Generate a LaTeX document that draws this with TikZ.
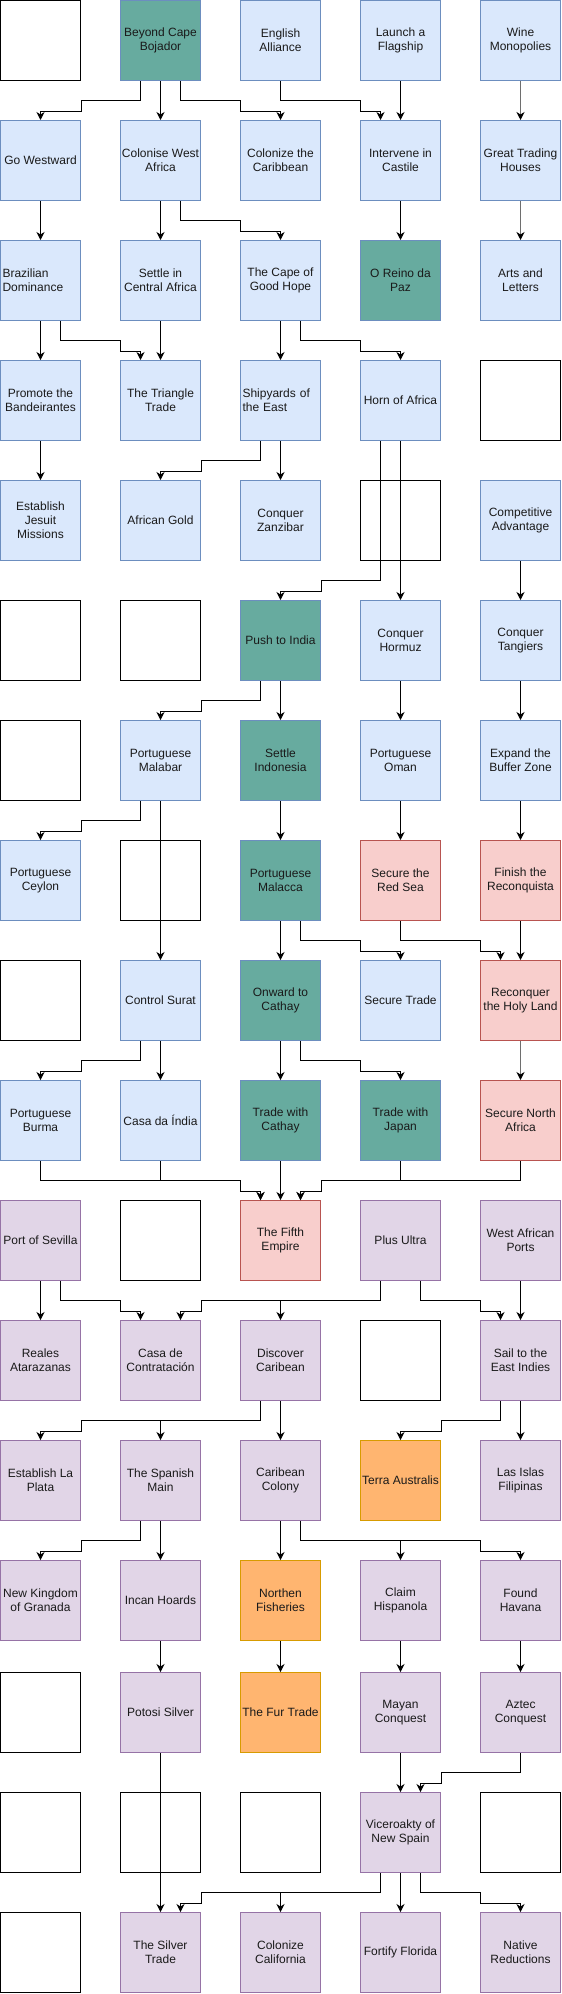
\documentclass[tikz,border=0pt]{standalone}
\usepackage{fontspec}
\setmainfont{Liberation Sans}
\usetikzlibrary{arrows.meta,calc}
\definecolor{blueF}{HTML}{DAE8FC}
\definecolor{blueD}{HTML}{6C8EBF}
\definecolor{greenF}{HTML}{67AB9F}
\definecolor{pinkF}{HTML}{F8CECC}
\definecolor{pinkD}{HTML}{B85450}
\definecolor{purpF}{HTML}{E1D5E7}
\definecolor{purpD}{HTML}{9673A6}
\definecolor{orF}{HTML}{FFB570}
\definecolor{orD}{HTML}{D79B00}
\definecolor{greyL}{HTML}{6E6E6E}
\definecolor{txt}{HTML}{1A1A1A}
\newcommand\elb[3]{\draw[conn] (#1) |- ($(#2)+(0,20)$) -- ($(#2)+(0,9)$) -| (#3);}
\newcommand\brn[2]{\draw[conn] (#1) |- ($(#2)+(0,20)$) -- (#2);}
\begin{document}
\begin{tikzpicture}[x=1pt,y=1pt,
  box/.style={rectangle, draw, line width=1pt, minimum width=80pt, minimum height=80pt,
    inner sep=1pt, align=center, text=txt, font=\fontsize{12}{14.2}\selectfont},
  bluebox/.style={box, fill=blueF, draw=blueD},
  greenbox/.style={box, fill=greenF, draw=blueD},
  pinkbox/.style={box, fill=pinkF, draw=pinkD},
  purpbox/.style={box, fill=purpF, draw=purpD},
  orbox/.style={box, fill=orF, draw=orD},
  emptybox/.style={box, fill=white, draw=black},
  lefttext/.style={align=left, text width=76pt},
  conn/.style={draw=black, line width=1pt, -{Stealth[length=8pt,width=8pt,inset=2.5pt]}},
  greyconn/.style={draw=greyL, line width=1.3pt, -{Stealth[length=8pt,width=8pt,inset=2.5pt,color=black]}}
]
\useasboundingbox (-0.5,0.5) rectangle (561.5,-1993.5);
% row 0
\node[emptybox] (r0c0) at (40,-40) {};
\node[greenbox] (r0c1) at (160,-40) {Beyond Cape\\Bojador};
\node[bluebox] (r0c2) at (280,-40) {English\\Alliance};
\node[bluebox] (r0c3) at (400,-40) {Launch a\\Flagship};
\node[bluebox] (r0c4) at (520,-40) {Wine\\Monopolies};
% row 1
\node[bluebox] (r1c0) at (40,-160) {Go Westward};
\node[bluebox] (r1c1) at (160,-160) {Colonise West\\Africa};
\node[bluebox] (r1c2) at (280,-160) {Colonize the\\Caribbean};
\node[bluebox] (r1c3) at (400,-160) {Intervene in\\Castile};
\node[bluebox] (r1c4) at (520,-160) {Great Trading\\Houses};
% row 2
\node[bluebox,lefttext] (r2c0) at (40,-280) {Brazilian\\Dominance};
\node[bluebox] (r2c1) at (160,-280) {Settle in\\Central Africa};
\node[bluebox] (r2c2) at (280,-280) {The Cape of\\Good Hope};
\node[greenbox] (r2c3) at (400,-280) {O Reino da\\Paz};
\node[bluebox] (r2c4) at (520,-280) {Arts and\\Letters};
% row 3
\node[bluebox] (r3c0) at (40,-400) {Promote the\\Bandeirantes};
\node[bluebox] (r3c1) at (160,-400) {The Triangle\\Trade};
\node[bluebox,lefttext] (r3c2) at (280,-400) {Shipyards of\\the East};
\node[bluebox] (r3c3) at (400,-400) {Horn of Africa};
\node[emptybox] (r3c4) at (520,-400) {};
% row 4
\node[bluebox] (r4c0) at (40,-520) {Establish\\Jesuit\\Missions};
\node[bluebox] (r4c1) at (160,-520) {African Gold};
\node[bluebox] (r4c2) at (280,-520) {Conquer\\Zanzibar};
\node[emptybox] (r4c3) at (400,-520) {};
\node[bluebox] (r4c4) at (520,-520) {Competitive\\Advantage};
% row 5
\node[emptybox] (r5c0) at (40,-640) {};
\node[emptybox] (r5c1) at (160,-640) {};
\node[greenbox] (r5c2) at (280,-640) {Push to India};
\node[bluebox] (r5c3) at (400,-640) {Conquer\\Hormuz};
\node[bluebox] (r5c4) at (520,-640) {Conquer\\Tangiers};
% row 6
\node[emptybox] (r6c0) at (40,-760) {};
\node[bluebox] (r6c1) at (160,-760) {Portuguese\\Malabar};
\node[greenbox] (r6c2) at (280,-760) {Settle\\Indonesia};
\node[bluebox] (r6c3) at (400,-760) {Portuguese\\Oman};
\node[bluebox] (r6c4) at (520,-760) {Expand the\\Buffer Zone};
% row 7
\node[bluebox] (r7c0) at (40,-880) {Portuguese\\Ceylon};
\node[emptybox] (r7c1) at (160,-880) {};
\node[greenbox] (r7c2) at (280,-880) {Portuguese\\Malacca};
\node[pinkbox] (r7c3) at (400,-880) {Secure the\\Red Sea};
\node[pinkbox] (r7c4) at (520,-880) {Finish the\\Reconquista};
% row 8
\node[emptybox] (r8c0) at (40,-1000) {};
\node[bluebox] (r8c1) at (160,-1000) {Control Surat};
\node[greenbox] (r8c2) at (280,-1000) {Onward to\\Cathay};
\node[bluebox] (r8c3) at (400,-1000) {Secure Trade};
\node[pinkbox] (r8c4) at (520,-1000) {Reconquer\\the Holy Land};
% row 9
\node[bluebox] (r9c0) at (40,-1120) {Portuguese\\Burma};
\node[bluebox] (r9c1) at (160,-1120) {Casa da Índia};
\node[greenbox] (r9c2) at (280,-1120) {Trade with\\Cathay};
\node[greenbox] (r9c3) at (400,-1120) {Trade with\\Japan};
\node[pinkbox] (r9c4) at (520,-1120) {Secure North\\Africa};
% row 10
\node[purpbox] (r10c0) at (40,-1240) {Port of Sevilla};
\node[emptybox] (r10c1) at (160,-1240) {};
\node[pinkbox] (r10c2) at (280,-1240) {The Fifth\\Empire};
\node[purpbox] (r10c3) at (400,-1240) {Plus Ultra};
\node[purpbox] (r10c4) at (520,-1240) {West African\\Ports};
% row 11
\node[purpbox] (r11c0) at (40,-1360) {Reales\\Atarazanas};
\node[purpbox] (r11c1) at (160,-1360) {Casa de\\Contratación};
\node[purpbox] (r11c2) at (280,-1360) {Discover\\Caribean};
\node[emptybox] (r11c3) at (400,-1360) {};
\node[purpbox] (r11c4) at (520,-1360) {Sail to the\\East Indies};
% row 12
\node[purpbox] (r12c0) at (40,-1480) {Establish La\\Plata};
\node[purpbox] (r12c1) at (160,-1480) {The Spanish\\Main};
\node[purpbox] (r12c2) at (280,-1480) {Caribean\\Colony};
\node[orbox] (r12c3) at (400,-1480) {Terra Australis};
\node[purpbox] (r12c4) at (520,-1480) {Las Islas\\Filipinas};
% row 13
\node[purpbox] (r13c0) at (40,-1600) {New Kingdom\\of Granada};
\node[purpbox] (r13c1) at (160,-1600) {Incan Hoards};
\node[orbox] (r13c2) at (280,-1600) {Northen\\Fisheries};
\node[purpbox] (r13c3) at (400,-1600) {Claim\\Hispanola};
\node[purpbox] (r13c4) at (520,-1600) {Found\\Havana};
% row 14
\node[emptybox] (r14c0) at (40,-1712) {};
\node[purpbox] (r14c1) at (160,-1712) {Potosi Silver};
\node[orbox] (r14c2) at (280,-1712) {The Fur Trade};
\node[purpbox] (r14c3) at (400,-1712) {Mayan\\Conquest};
\node[purpbox] (r14c4) at (520,-1712) {Aztec\\Conquest};
% row 15
\node[emptybox] (r15c0) at (40,-1832) {};
\node[emptybox] (r15c1) at (160,-1832) {};
\node[emptybox] (r15c2) at (280,-1832) {};
\node[purpbox] (r15c3) at (400,-1832) {Viceroakty of\\New Spain};
\node[emptybox] (r15c4) at (520,-1832) {};
% row 16
\node[emptybox] (r16c0) at (40,-1952) {};
\node[purpbox] (r16c1) at (160,-1952) {The Silver\\Trade};
\node[purpbox] (r16c2) at (280,-1952) {Colonize\\California};
\node[purpbox] (r16c3) at (400,-1952) {Fortify Florida};
\node[purpbox] (r16c4) at (520,-1952) {Native\\Reductions};

% connectors rows 0-1
\elb{[xshift=-20pt]r0c1.south}{r1c0.north east}{r1c0.north}
\draw[conn] (r0c1.south) -- (r1c1.north);
\elb{[xshift=20pt]r0c1.south}{r1c2.north west}{r1c2.north}
\elb{r0c2.south}{r1c3.north west}{[xshift=-20pt]r1c3.north}
\draw[conn] (r0c3.south) -- (r1c3.north);
\draw[greyconn] (r0c4.south) -- (r1c4.north);
% rows 1-2
\draw[conn] (r1c0.south) -- (r2c0.north);
\draw[conn] (r1c1.south) -- (r2c1.north);
\elb{[xshift=20pt]r1c1.south}{r2c2.north west}{r2c2.north}
\draw[conn] (r1c3.south) -- (r2c3.north);
\draw[greyconn] (r1c4.south) -- (r2c4.north);
% rows 2-3
\draw[conn] (r2c0.south) -- (r3c0.north);
\elb{[xshift=20pt]r2c0.south}{r3c1.north west}{[xshift=-20pt]r3c1.north}
\draw[conn] (r2c1.south) -- (r3c1.north);
\draw[conn] (r2c2.south) -- (r3c2.north);
\elb{[xshift=20pt]r2c2.south}{r3c3.north west}{r3c3.north}
% rows 3-4
\draw[conn] (r3c0.south) -- (r4c0.north);
\elb{[xshift=-20pt]r3c2.south}{r4c1.north east}{r4c1.north}
\draw[conn] (r3c2.south) -- (r4c2.north);
\elb{[xshift=-20pt]r3c3.south}{r5c2.north east}{r5c2.north}
\draw[conn] (r3c3.south) -- (r5c3.north);
\draw[conn] (r4c4.south) -- (r5c4.north);
% rows 5-6
\elb{[xshift=-20pt]r5c2.south}{r6c1.north east}{r6c1.north}
\draw[conn] (r5c2.south) -- (r6c2.north);
\draw[conn] (r5c3.south) -- (r6c3.north);
\draw[conn] (r5c4.south) -- (r6c4.north);
% rows 6-7
\elb{[xshift=-20pt]r6c1.south}{r7c0.north east}{r7c0.north}
\draw[conn] (r6c1.south) -- (r8c1.north);
\draw[conn] (r6c2.south) -- (r7c2.north);
\draw[conn] (r6c3.south) -- (r7c3.north);
\draw[conn] (r6c4.south) -- (r7c4.north);
% rows 7-8
\draw[conn] (r7c2.south) -- (r8c2.north);
\elb{[xshift=20pt]r7c2.south}{r8c3.north west}{r8c3.north}
\elb{r7c3.south}{r8c4.north west}{[xshift=-20pt]r8c4.north}
\draw[conn] (r7c4.south) -- (r8c4.north);
% rows 8-9
\elb{[xshift=-20pt]r8c1.south}{r9c0.north east}{r9c0.north}
\draw[conn] (r8c1.south) -- (r9c1.north);
\draw[conn] (r8c2.south) -- (r9c2.north);
\elb{[xshift=20pt]r8c2.south}{r9c3.north west}{r9c3.north}
\draw[greyconn] (r8c4.south) -- (r9c4.north);
% rows 9-10
\elb{r9c0.south}{r10c2.north west}{[xshift=-20pt]r10c2.north}
\elb{r9c1.south}{r10c2.north west}{[xshift=-20pt]r10c2.north}
\draw[conn] (r9c2.south) -- (r10c2.north);
\elb{r9c3.south}{r10c2.north east}{[xshift=20pt]r10c2.north}
\elb{r9c4.south}{r10c2.north east}{[xshift=20pt]r10c2.north}
% rows 10-11
\draw[conn] (r10c0.south) -- (r11c0.north);
\elb{[xshift=20pt]r10c0.south}{r11c1.north west}{[xshift=-20pt]r11c1.north}
\elb{[xshift=-20pt]r10c3.south}{r11c1.north east}{[xshift=20pt]r11c1.north}
\brn{[xshift=-20pt]r10c3.south}{r11c2.north}
\elb{[xshift=20pt]r10c3.south}{r11c4.north west}{[xshift=-20pt]r11c4.north}
\draw[conn] (r10c4.south) -- (r11c4.north);
% rows 11-12
\elb{[xshift=-20pt]r11c2.south}{r12c0.north east}{r12c0.north}
\brn{[xshift=-20pt]r11c2.south}{r12c1.north}
\draw[conn] (r11c2.south) -- (r12c2.north);
\elb{[xshift=-20pt]r11c4.south}{r12c3.north east}{r12c3.north}
\draw[conn] (r11c4.south) -- (r12c4.north);
% rows 12-13
\elb{[xshift=-20pt]r12c1.south}{r13c0.north east}{r13c0.north}
\draw[conn] (r12c1.south) -- (r13c1.north);
\draw[conn] (r12c2.south) -- (r13c2.north);
\brn{[xshift=20pt]r12c2.south}{r13c3.north}
\elb{[xshift=20pt]r12c2.south}{r13c4.north west}{r13c4.north}
% rows 13-14
\draw[conn] (r13c1.south) -- (r14c1.north);
\draw[conn] (r13c2.south) -- (r14c2.north);
\draw[conn] (r13c3.south) -- (r14c3.north);
\draw[conn] (r13c4.south) -- (r14c4.north);
% rows 14-16
\draw[conn] (r14c1.south) -- (r16c1.north);
\draw[conn] (r14c3.south) -- (r15c3.north);
\elb{r14c4.south}{r15c3.north east}{[xshift=20pt]r15c3.north}
\elb{[xshift=-20pt]r15c3.south}{r16c1.north east}{[xshift=20pt]r16c1.north}
\brn{[xshift=-20pt]r15c3.south}{r16c2.north}
\draw[conn] (r15c3.south) -- (r16c3.north);
\elb{[xshift=20pt]r15c3.south}{r16c4.north west}{r16c4.north}
\end{tikzpicture}
\end{document}
